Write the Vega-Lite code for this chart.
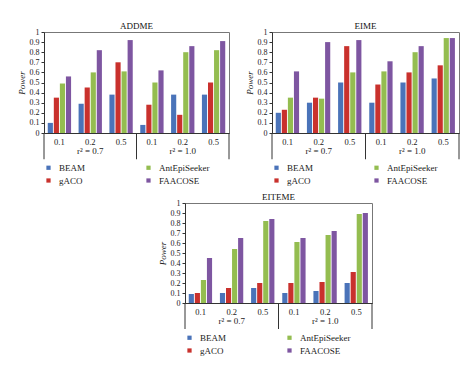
{
  "$schema": "https://vega.github.io/schema/vega-lite/v6.json",
  "padding": {"left": 16, "top": 21, "right": 5, "bottom": 3},
  "background": "white",
  "datasets": {
    "d": [
      {"p":"ADDME","r2":"r² = 0.7","x":"0.1","k":"0.7|0.1","s":"BEAM","v":0.10},
      {"p":"ADDME","r2":"r² = 0.7","x":"0.1","k":"0.7|0.1","s":"gACO","v":0.35},
      {"p":"ADDME","r2":"r² = 0.7","x":"0.1","k":"0.7|0.1","s":"AntEpiSeeker","v":0.49},
      {"p":"ADDME","r2":"r² = 0.7","x":"0.1","k":"0.7|0.1","s":"FAACOSE","v":0.56},
      {"p":"ADDME","r2":"r² = 0.7","x":"0.2","k":"0.7|0.2","s":"BEAM","v":0.29},
      {"p":"ADDME","r2":"r² = 0.7","x":"0.2","k":"0.7|0.2","s":"gACO","v":0.45},
      {"p":"ADDME","r2":"r² = 0.7","x":"0.2","k":"0.7|0.2","s":"AntEpiSeeker","v":0.60},
      {"p":"ADDME","r2":"r² = 0.7","x":"0.2","k":"0.7|0.2","s":"FAACOSE","v":0.82},
      {"p":"ADDME","r2":"r² = 0.7","x":"0.5","k":"0.7|0.5","s":"BEAM","v":0.38},
      {"p":"ADDME","r2":"r² = 0.7","x":"0.5","k":"0.7|0.5","s":"gACO","v":0.70},
      {"p":"ADDME","r2":"r² = 0.7","x":"0.5","k":"0.7|0.5","s":"AntEpiSeeker","v":0.61},
      {"p":"ADDME","r2":"r² = 0.7","x":"0.5","k":"0.7|0.5","s":"FAACOSE","v":0.92},
      {"p":"ADDME","r2":"r² = 1.0","x":"0.1","k":"1.0|0.1","s":"BEAM","v":0.08},
      {"p":"ADDME","r2":"r² = 1.0","x":"0.1","k":"1.0|0.1","s":"gACO","v":0.28},
      {"p":"ADDME","r2":"r² = 1.0","x":"0.1","k":"1.0|0.1","s":"AntEpiSeeker","v":0.50},
      {"p":"ADDME","r2":"r² = 1.0","x":"0.1","k":"1.0|0.1","s":"FAACOSE","v":0.62},
      {"p":"ADDME","r2":"r² = 1.0","x":"0.2","k":"1.0|0.2","s":"BEAM","v":0.38},
      {"p":"ADDME","r2":"r² = 1.0","x":"0.2","k":"1.0|0.2","s":"gACO","v":0.18},
      {"p":"ADDME","r2":"r² = 1.0","x":"0.2","k":"1.0|0.2","s":"AntEpiSeeker","v":0.80},
      {"p":"ADDME","r2":"r² = 1.0","x":"0.2","k":"1.0|0.2","s":"FAACOSE","v":0.86},
      {"p":"ADDME","r2":"r² = 1.0","x":"0.5","k":"1.0|0.5","s":"BEAM","v":0.38},
      {"p":"ADDME","r2":"r² = 1.0","x":"0.5","k":"1.0|0.5","s":"gACO","v":0.50},
      {"p":"ADDME","r2":"r² = 1.0","x":"0.5","k":"1.0|0.5","s":"AntEpiSeeker","v":0.82},
      {"p":"ADDME","r2":"r² = 1.0","x":"0.5","k":"1.0|0.5","s":"FAACOSE","v":0.91},

      {"p":"EIME","r2":"r² = 0.7","x":"0.1","k":"0.7|0.1","s":"BEAM","v":0.20},
      {"p":"EIME","r2":"r² = 0.7","x":"0.1","k":"0.7|0.1","s":"gACO","v":0.23},
      {"p":"EIME","r2":"r² = 0.7","x":"0.1","k":"0.7|0.1","s":"AntEpiSeeker","v":0.35},
      {"p":"EIME","r2":"r² = 0.7","x":"0.1","k":"0.7|0.1","s":"FAACOSE","v":0.61},
      {"p":"EIME","r2":"r² = 0.7","x":"0.2","k":"0.7|0.2","s":"BEAM","v":0.30},
      {"p":"EIME","r2":"r² = 0.7","x":"0.2","k":"0.7|0.2","s":"gACO","v":0.35},
      {"p":"EIME","r2":"r² = 0.7","x":"0.2","k":"0.7|0.2","s":"AntEpiSeeker","v":0.34},
      {"p":"EIME","r2":"r² = 0.7","x":"0.2","k":"0.7|0.2","s":"FAACOSE","v":0.90},
      {"p":"EIME","r2":"r² = 0.7","x":"0.5","k":"0.7|0.5","s":"BEAM","v":0.50},
      {"p":"EIME","r2":"r² = 0.7","x":"0.5","k":"0.7|0.5","s":"gACO","v":0.86},
      {"p":"EIME","r2":"r² = 0.7","x":"0.5","k":"0.7|0.5","s":"AntEpiSeeker","v":0.60},
      {"p":"EIME","r2":"r² = 0.7","x":"0.5","k":"0.7|0.5","s":"FAACOSE","v":0.92},
      {"p":"EIME","r2":"r² = 1.0","x":"0.1","k":"1.0|0.1","s":"BEAM","v":0.30},
      {"p":"EIME","r2":"r² = 1.0","x":"0.1","k":"1.0|0.1","s":"gACO","v":0.48},
      {"p":"EIME","r2":"r² = 1.0","x":"0.1","k":"1.0|0.1","s":"AntEpiSeeker","v":0.61},
      {"p":"EIME","r2":"r² = 1.0","x":"0.1","k":"1.0|0.1","s":"FAACOSE","v":0.71},
      {"p":"EIME","r2":"r² = 1.0","x":"0.2","k":"1.0|0.2","s":"BEAM","v":0.50},
      {"p":"EIME","r2":"r² = 1.0","x":"0.2","k":"1.0|0.2","s":"gACO","v":0.60},
      {"p":"EIME","r2":"r² = 1.0","x":"0.2","k":"1.0|0.2","s":"AntEpiSeeker","v":0.80},
      {"p":"EIME","r2":"r² = 1.0","x":"0.2","k":"1.0|0.2","s":"FAACOSE","v":0.86},
      {"p":"EIME","r2":"r² = 1.0","x":"0.5","k":"1.0|0.5","s":"BEAM","v":0.54},
      {"p":"EIME","r2":"r² = 1.0","x":"0.5","k":"1.0|0.5","s":"gACO","v":0.67},
      {"p":"EIME","r2":"r² = 1.0","x":"0.5","k":"1.0|0.5","s":"AntEpiSeeker","v":0.94},
      {"p":"EIME","r2":"r² = 1.0","x":"0.5","k":"1.0|0.5","s":"FAACOSE","v":0.94},

      {"p":"EITEME","r2":"r² = 0.7","x":"0.1","k":"0.7|0.1","s":"BEAM","v":0.09},
      {"p":"EITEME","r2":"r² = 0.7","x":"0.1","k":"0.7|0.1","s":"gACO","v":0.10},
      {"p":"EITEME","r2":"r² = 0.7","x":"0.1","k":"0.7|0.1","s":"AntEpiSeeker","v":0.23},
      {"p":"EITEME","r2":"r² = 0.7","x":"0.1","k":"0.7|0.1","s":"FAACOSE","v":0.45},
      {"p":"EITEME","r2":"r² = 0.7","x":"0.2","k":"0.7|0.2","s":"BEAM","v":0.10},
      {"p":"EITEME","r2":"r² = 0.7","x":"0.2","k":"0.7|0.2","s":"gACO","v":0.15},
      {"p":"EITEME","r2":"r² = 0.7","x":"0.2","k":"0.7|0.2","s":"AntEpiSeeker","v":0.54},
      {"p":"EITEME","r2":"r² = 0.7","x":"0.2","k":"0.7|0.2","s":"FAACOSE","v":0.65},
      {"p":"EITEME","r2":"r² = 0.7","x":"0.5","k":"0.7|0.5","s":"BEAM","v":0.15},
      {"p":"EITEME","r2":"r² = 0.7","x":"0.5","k":"0.7|0.5","s":"gACO","v":0.20},
      {"p":"EITEME","r2":"r² = 0.7","x":"0.5","k":"0.7|0.5","s":"AntEpiSeeker","v":0.82},
      {"p":"EITEME","r2":"r² = 0.7","x":"0.5","k":"0.7|0.5","s":"FAACOSE","v":0.84},
      {"p":"EITEME","r2":"r² = 1.0","x":"0.1","k":"1.0|0.1","s":"BEAM","v":0.10},
      {"p":"EITEME","r2":"r² = 1.0","x":"0.1","k":"1.0|0.1","s":"gACO","v":0.20},
      {"p":"EITEME","r2":"r² = 1.0","x":"0.1","k":"1.0|0.1","s":"AntEpiSeeker","v":0.61},
      {"p":"EITEME","r2":"r² = 1.0","x":"0.1","k":"1.0|0.1","s":"FAACOSE","v":0.65},
      {"p":"EITEME","r2":"r² = 1.0","x":"0.2","k":"1.0|0.2","s":"BEAM","v":0.12},
      {"p":"EITEME","r2":"r² = 1.0","x":"0.2","k":"1.0|0.2","s":"gACO","v":0.21},
      {"p":"EITEME","r2":"r² = 1.0","x":"0.2","k":"1.0|0.2","s":"AntEpiSeeker","v":0.68},
      {"p":"EITEME","r2":"r² = 1.0","x":"0.2","k":"1.0|0.2","s":"FAACOSE","v":0.72},
      {"p":"EITEME","r2":"r² = 1.0","x":"0.5","k":"1.0|0.5","s":"BEAM","v":0.20},
      {"p":"EITEME","r2":"r² = 1.0","x":"0.5","k":"1.0|0.5","s":"gACO","v":0.31},
      {"p":"EITEME","r2":"r² = 1.0","x":"0.5","k":"1.0|0.5","s":"AntEpiSeeker","v":0.89},
      {"p":"EITEME","r2":"r² = 1.0","x":"0.5","k":"1.0|0.5","s":"FAACOSE","v":0.90}
    ]
  },
  "data": {"name": "d"},
  "vconcat": [
    {
      "hconcat": [
        {
          "title": "ADDME",
          "width": 185, "height": 101,
          "transform": [{"filter": "datum.p === 'ADDME'"}],
          "layer": [
            {"mark": {"type": "bar"},
             "encoding": {
               "x": {"field": "k", "type": "nominal", "scale": {"paddingInner": 0, "paddingOuter": 0}, "axis": {"title": null, "labelExpr": "split(datum.label, '|')[1]", "ticks": false, "labelAngle": 0, "labelPadding": 4}},
               "xOffset": {"field": "s", "sort": ["BEAM", "gACO", "AntEpiSeeker", "FAACOSE"], "scale": {"paddingOuter": 0.62, "paddingInner": 0.15}},
               "y": {"field": "v", "type": "quantitative", "scale": {"domain": [0, 1]}, "axis": {"title": "Power", "values": [0,0.1,0.2,0.3,0.4,0.5,0.6,0.7,0.8,0.9,1], "tickCount": 11, "format": "~g", "grid": false, "labelOverlap": false}},
               "color": {"field": "s", "type": "nominal", "scale": {"domain": ["BEAM", "AntEpiSeeker", "gACO", "FAACOSE"], "range": ["#4a73b9", "#94bd50", "#c9312d", "#7e56a1"]}, "legend": {"title": null}}
             }},
            {"transform": [{"filter": "datum.s === 'BEAM' && datum.x === '0.1'"}],
             "mark": {"type": "rule", "color": "#333"},
             "encoding": {"x": {"field": "k", "type": "nominal", "bandPosition": 0}, "y": {"datum": 0, "type": "quantitative", "axis": {"title": "Power", "values": [0,0.1,0.2,0.3,0.4,0.5,0.6,0.7,0.8,0.9,1], "tickCount": 11, "format": "~g", "grid": false, "labelOverlap": false}}, "y2": {"datum": -0.26}}},
            {"transform": [{"filter": "datum.s === 'BEAM' && datum.k === '1.0|0.5'"}],
             "mark": {"type": "rule", "color": "#333"},
             "encoding": {"x": {"field": "k", "type": "nominal", "bandPosition": 1}, "y": {"datum": 0, "type": "quantitative", "axis": {"title": "Power", "values": [0,0.1,0.2,0.3,0.4,0.5,0.6,0.7,0.8,0.9,1], "tickCount": 11, "format": "~g", "grid": false, "labelOverlap": false}}, "y2": {"datum": -0.26}}},
            {"transform": [{"filter": "datum.s === 'BEAM' && datum.x === '0.2'"}],
             "mark": {"type": "text", "dy": 18, "fontSize": 9, "color": "#222"},
             "encoding": {"x": {"field": "k", "type": "nominal"}, "y": {"datum": 0, "type": "quantitative", "axis": {"title": "Power", "values": [0,0.1,0.2,0.3,0.4,0.5,0.6,0.7,0.8,0.9,1], "tickCount": 11, "format": "~g", "grid": false, "labelOverlap": false}}, "text": {"field": "r2"}}}
          ]
        },
        {
          "title": "EIME",
          "width": 187, "height": 101,
          "transform": [{"filter": "datum.p === 'EIME'"}],
          "layer": [
            {"mark": {"type": "bar"},
             "encoding": {
               "x": {"field": "k", "type": "nominal", "scale": {"paddingInner": 0, "paddingOuter": 0}, "axis": {"title": null, "labelExpr": "split(datum.label, '|')[1]", "ticks": false, "labelAngle": 0, "labelPadding": 4}},
               "xOffset": {"field": "s", "sort": ["BEAM", "gACO", "AntEpiSeeker", "FAACOSE"], "scale": {"paddingOuter": 0.62, "paddingInner": 0.15}},
               "y": {"field": "v", "type": "quantitative", "scale": {"domain": [0, 1]}, "axis": {"title": "Power", "values": [0,0.1,0.2,0.3,0.4,0.5,0.6,0.7,0.8,0.9,1], "tickCount": 11, "format": "~g", "grid": false, "labelOverlap": false}},
               "color": {"field": "s", "type": "nominal", "scale": {"domain": ["BEAM", "AntEpiSeeker", "gACO", "FAACOSE"], "range": ["#4a73b9", "#94bd50", "#c9312d", "#7e56a1"]}, "legend": {"title": null}}
             }},
            {"transform": [{"filter": "datum.s === 'BEAM' && datum.x === '0.1'"}],
             "mark": {"type": "rule", "color": "#333"},
             "encoding": {"x": {"field": "k", "type": "nominal", "bandPosition": 0}, "y": {"datum": 0, "type": "quantitative", "axis": {"title": "Power", "values": [0,0.1,0.2,0.3,0.4,0.5,0.6,0.7,0.8,0.9,1], "tickCount": 11, "format": "~g", "grid": false, "labelOverlap": false}}, "y2": {"datum": -0.26}}},
            {"transform": [{"filter": "datum.s === 'BEAM' && datum.k === '1.0|0.5'"}],
             "mark": {"type": "rule", "color": "#333"},
             "encoding": {"x": {"field": "k", "type": "nominal", "bandPosition": 1}, "y": {"datum": 0, "type": "quantitative", "axis": {"title": "Power", "values": [0,0.1,0.2,0.3,0.4,0.5,0.6,0.7,0.8,0.9,1], "tickCount": 11, "format": "~g", "grid": false, "labelOverlap": false}}, "y2": {"datum": -0.26}}},
            {"transform": [{"filter": "datum.s === 'BEAM' && datum.x === '0.2'"}],
             "mark": {"type": "text", "dy": 18, "fontSize": 9, "color": "#222"},
             "encoding": {"x": {"field": "k", "type": "nominal"}, "y": {"datum": 0, "type": "quantitative", "axis": {"title": "Power", "values": [0,0.1,0.2,0.3,0.4,0.5,0.6,0.7,0.8,0.9,1], "tickCount": 11, "format": "~g", "grid": false, "labelOverlap": false}}, "text": {"field": "r2"}}}
          ]
        }
      ],
      "spacing": 14,
      "resolve": {"legend": {"color": "independent"}}
    },
    {
      "hconcat": [
        {
          "width": 95, "height": 10,
          "data": {"values": []},
          "mark": {"type": "point"},
          "encoding": {},
          "view": {"stroke": null}
        },
        {
          "title": "EITEME",
          "width": 187, "height": 100,
          "transform": [{"filter": "datum.p === 'EITEME'"}],
          "layer": [
            {"mark": {"type": "bar"},
             "encoding": {
               "x": {"field": "k", "type": "nominal", "scale": {"paddingInner": 0, "paddingOuter": 0}, "axis": {"title": null, "labelExpr": "split(datum.label, '|')[1]", "ticks": false, "labelAngle": 0, "labelPadding": 4}},
               "xOffset": {"field": "s", "sort": ["BEAM", "gACO", "AntEpiSeeker", "FAACOSE"], "scale": {"paddingOuter": 0.62, "paddingInner": 0.15}},
               "y": {"field": "v", "type": "quantitative", "scale": {"domain": [0, 1]}, "axis": {"title": "Power", "values": [0,0.1,0.2,0.3,0.4,0.5,0.6,0.7,0.8,0.9,1], "tickCount": 11, "format": "~g", "grid": false, "labelOverlap": false}},
               "color": {"field": "s", "type": "nominal", "scale": {"domain": ["BEAM", "AntEpiSeeker", "gACO", "FAACOSE"], "range": ["#4a73b9", "#94bd50", "#c9312d", "#7e56a1"]}, "legend": {"title": null}}
             }},
            {"transform": [{"filter": "datum.s === 'BEAM' && datum.x === '0.1'"}],
             "mark": {"type": "rule", "color": "#333"},
             "encoding": {"x": {"field": "k", "type": "nominal", "bandPosition": 0}, "y": {"datum": 0, "type": "quantitative", "axis": {"title": "Power", "values": [0,0.1,0.2,0.3,0.4,0.5,0.6,0.7,0.8,0.9,1], "tickCount": 11, "format": "~g", "grid": false, "labelOverlap": false}}, "y2": {"datum": -0.26}}},
            {"transform": [{"filter": "datum.s === 'BEAM' && datum.k === '1.0|0.5'"}],
             "mark": {"type": "rule", "color": "#333"},
             "encoding": {"x": {"field": "k", "type": "nominal", "bandPosition": 1}, "y": {"datum": 0, "type": "quantitative", "axis": {"title": "Power", "values": [0,0.1,0.2,0.3,0.4,0.5,0.6,0.7,0.8,0.9,1], "tickCount": 11, "format": "~g", "grid": false, "labelOverlap": false}}, "y2": {"datum": -0.26}}},
            {"transform": [{"filter": "datum.s === 'BEAM' && datum.x === '0.2'"}],
             "mark": {"type": "text", "dy": 18, "fontSize": 9, "color": "#222"},
             "encoding": {"x": {"field": "k", "type": "nominal"}, "y": {"datum": 0, "type": "quantitative", "axis": {"title": "Power", "values": [0,0.1,0.2,0.3,0.4,0.5,0.6,0.7,0.8,0.9,1], "tickCount": 11, "format": "~g", "grid": false, "labelOverlap": false}}, "text": {"field": "r2"}}}
          ]
        }
      ],
      "spacing": 18,
      "resolve": {"legend": {"color": "independent"}}
    }
  ],
  "spacing": 5,
  "resolve": {"legend": {"color": "independent"}},
  "config": {
    "font": "Liberation Serif",
    "view": {"stroke": "#777", "strokeWidth": 1},
    "title": {"fontSize": 9, "fontWeight": "normal", "color": "#111", "offset": -3, "font": "Liberation Serif"},
    "axis": {"labelFont": "Liberation Serif", "titleFont": "Liberation Serif", "labelFontSize": 8.5, "titleFontSize": 9, "titleFontWeight": "normal", "titleFontStyle": "italic", "labelColor": "#222", "titleColor": "#222", "domainColor": "#333", "tickColor": "#333", "tickSize": 3, "titlePadding": 3},
    "axisY": {"labelOverlap": false, "labelFontSize": 8, "labelBound": false},
    "legend": {"orient": "bottom", "columns": 2, "symbolType": "square", "symbolSize": 18, "labelFont": "Liberation Serif", "labelFontSize": 9, "labelColor": "#222", "columnPadding": 58, "rowPadding": 3, "offset": 17, "labelOffset": 6}
  }
}
